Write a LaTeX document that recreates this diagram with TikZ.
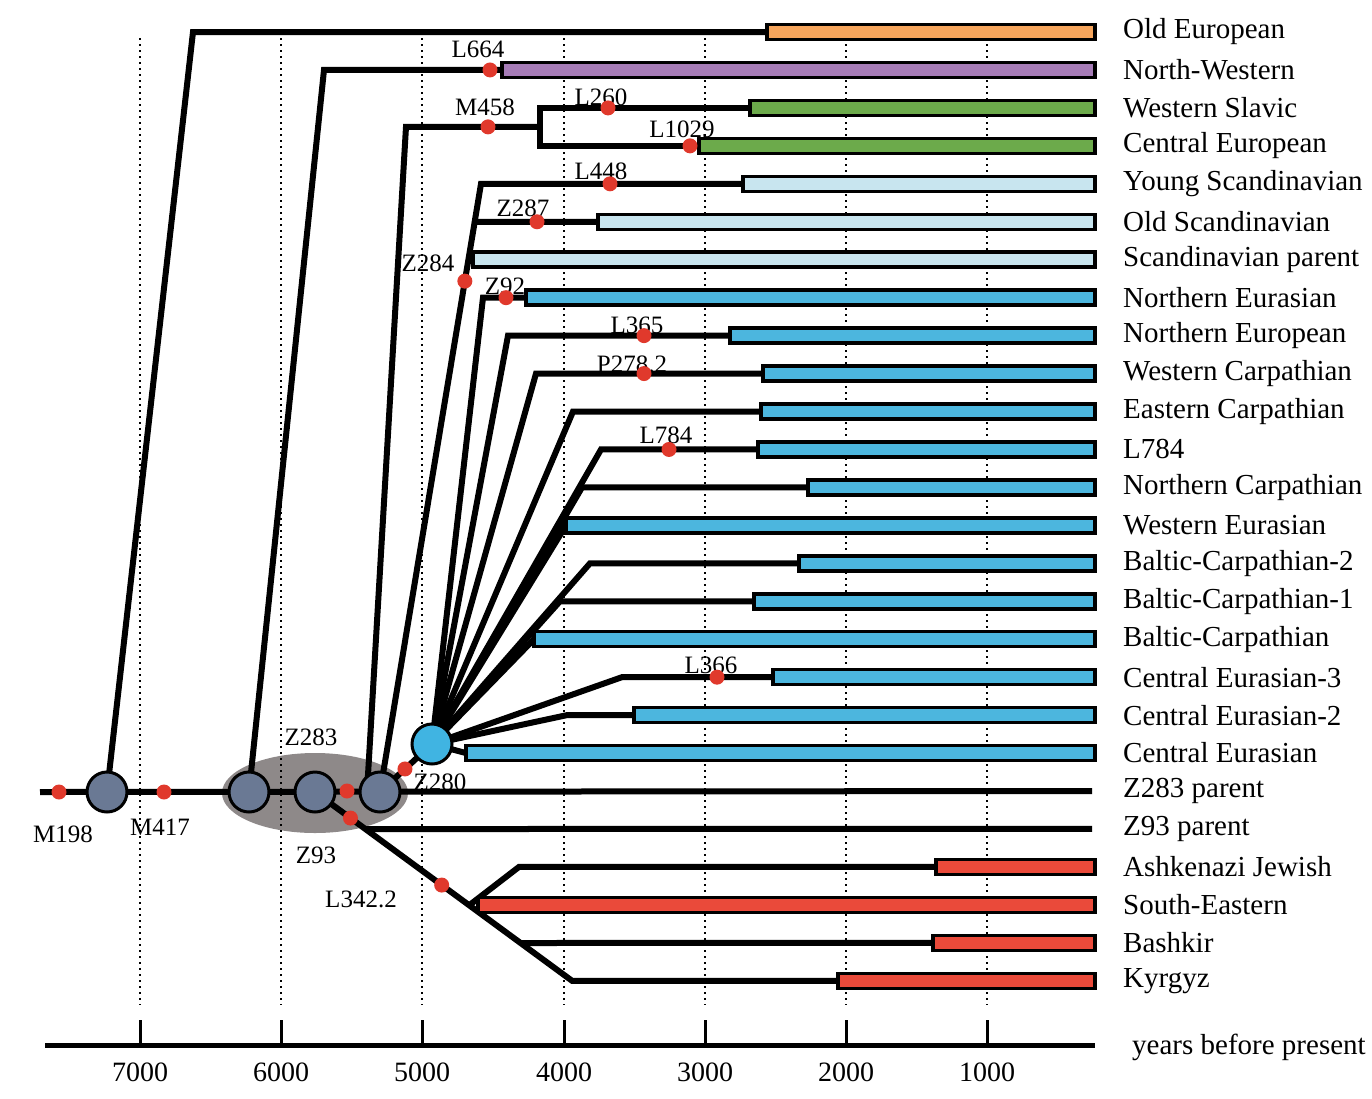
\documentclass[tikz,border=0pt]{standalone}
\usepackage{fontspec}
\setmainfont{Liberation Serif}
\usetikzlibrary{calc}

\definecolor{oldeu}{HTML}{F6A55C}
\definecolor{nweu}{HTML}{A67CB7}
\definecolor{slav}{HTML}{6CAA4B}
\definecolor{scand}{HTML}{C8E5EF}
\definecolor{eurasia}{HTML}{4CB6DE}
\definecolor{seast}{HTML}{EA4A3A}
\definecolor{snpred}{HTML}{E0392C}
\definecolor{hubgray}{HTML}{6A7994}
\definecolor{zblue}{HTML}{40B4E2}
\definecolor{cladegray}{HTML}{8E8989}

\tikzset{
  branch/.style={line width=6pt, line join=miter},
  bar/.style={draw=black, line width=3.5pt},
  hub/.style={circle, draw=black, line width=3pt, fill=hubgray, minimum size=40pt, inner sep=0pt},
  snp/.style={circle, fill=snpred, inner sep=0pt, minimum size=15pt},
  mut/.style={font=\fontsize{25}{25}\selectfont, inner sep=0pt},
  rowlbl/.style={font=\fontsize{29}{29}\selectfont, anchor=west, inner sep=0pt},
  axlbl/.style={font=\fontsize{28}{28}\selectfont, inner sep=0pt},
  yeargrid/.style={dash pattern=on 1.5pt off 4.5pt, line width=1.5pt},
  yeartick/.style={line width=3pt},
  timeaxis/.style={line width=5pt}
}

\begin{document}
\begin{tikzpicture}[x=1pt, y=-1pt]
\useasboundingbox (0,0) rectangle (1372,1098);

% shaded clade
\fill[cladegray] (315,793) ellipse [x radius=93, y radius=40];

% time scale
\foreach \gx/\yr in {140/7000,281/6000,422/5000,564/4000,705/3000,846/2000,987/1000}{
  \draw[yeargrid] (\gx,38) -- (\gx,1005);
  \draw[yeartick] (\gx,1020) -- (\gx,1045);
  \node[axlbl] (y\yr) at (\gx,1072) {\yr};
}
\draw[timeaxis] (45,1045) -- (1095,1045);
\node[rowlbl] (ybp) at (1132,1047) {years before present};

% row starts
\foreach \i/\xs in {0/767,1/502,2/750,3/699,4/743,5/598,6/473,7/526,8/730,9/763,
  10/761,11/758,12/808,13/566,14/799,15/754,16/534,17/773,18/634,19/466,
  20/1092,21/1092,22/936,23/478,24/933,25/838}{
  \pgfmathsetmacro\yy{32+37.95*\i}
  \coordinate (b\i) at (\xs,\yy);
}
\coordinate (rx) at (1095,0);

% corners
\foreach \n/\cx/\r in {k0/193/0,k1/324/1,k2/406/2.5,k2j/540/2.5,k2u/540/2,k2d/540/3,
  k4/481/4,k7/483/7,k8/508/8,k9/536/9,k10/573/10,k11/601/11,k12/582/12,
  k14/590/14,k15/560/15,k17/622/17,k18/567/18,k22/519/22,kd/572/25}{
  \coordinate (\n) at (\cx,{32+37.95*\r});
}

\coordinate (root) at (40,792);
\coordinate (h1) at (107,792);
\coordinate (h2) at (249,792);
\coordinate (h3) at (315,792);
\coordinate (h4) at (380,792);
\coordinate (z) at (432,744);

% branches
\draw[branch] (root) -- (b20);
\draw[branch] (h1) -- (k0) -- (b0);
\draw[branch] (h2) -- (k1) -- (b1);
\draw[branch] ([xshift=-13pt]h4) -- (k2) -- (k2j);
\draw[branch] (b2) -- (k2u) -- (k2d) -- (b3);
\draw[branch] (h4) -- (k4) -- (b4);
\draw[branch] ($(h4)!0.9376!(k4)$) -- (b5);
\draw[branch] ($(h4)!0.875!(k4)$) -- (b6);
\draw[branch] (h4) -- (z);
\foreach \r in {7,8,9,10,11,12,14,15,17,18}
  \draw[branch] (z) -- (k\r) -- (b\r);
\foreach \r in {13,16,19}
  \draw[branch] (z) -- (b\r);
\draw[branch] (h3) -- (kd) -- (b25);
\draw[branch] ($(h3)!0.196!(kd)$) -- (b21);
\draw[branch] ($(h3)!0.6!(kd)$) -- (k22) -- (b22);
\draw[branch] ($(h3)!0.8!(kd)$) -- (b24);

% haplogroup bars and names
\foreach \i/\col/\txt in {0/oldeu/Old European,1/nweu/North-Western,
  2/slav/Western Slavic,3/slav/Central European,4/scand/Young Scandinavian,
  5/scand/Old Scandinavian,6/scand/Scandinavian parent,7/eurasia/Northern Eurasian,
  8/eurasia/Northern European,9/eurasia/Western Carpathian,
  10/eurasia/Eastern Carpathian,11/eurasia/L784,12/eurasia/Northern Carpathian,
  13/eurasia/Western Eurasian,14/eurasia/Baltic-Carpathian-2,
  15/eurasia/Baltic-Carpathian-1,16/eurasia/Baltic-Carpathian,
  17/eurasia/Central Eurasian-3,18/eurasia/Central Eurasian-2,
  19/eurasia/Central Eurasian,20/none/Z283 parent,21/none/Z93 parent,
  22/seast/Ashkenazi Jewish,23/seast/South-Eastern,24/seast/Bashkir,25/seast/Kyrgyz}{
  \pgfmathsetmacro\yy{32+37.95*\i}
  \ifnum\i=20 \else\ifnum\i=21 \else
    \draw[bar, fill=\col] ($(b\i)+(0,-7.5)$) rectangle ($(b\i -| rx)+(0,7.5)$);
  \fi\fi
  \node[rowlbl] (t\i) at (1123,\yy) {\txt};
}

% nodes
\foreach \h in {h1,h2,h3,h4}
  \node[hub] (H\h) at (\h) {};
\node[hub, fill=zblue] (Z280) at (z) {};

% mutation names
\node[mut] (tM198) at (63,834) {M198};
\node[mut] (tM417) at (160,827) {M417};
\node[mut] (tZ283) at (311,737) {Z283};
\node[mut] (tZ93) at (316,855) {Z93};
\node[mut] (tZ280) at (440,782) {Z280};
\node[mut] (tL342) at (361,899) {L342.2};
\node[mut] (tL664) at (478,49) {L664};
\node[mut] (tM458) at (485,107) {M458};
\node[mut] (tL260) at (601,97) {L260};
\node[mut] (tL1029) at (682,129) {L1029};
\node[mut] (tL448) at (601,171) {L448};
\node[mut] (tZ287) at (523,208) {Z287};
\node[mut] (tZ284) at (428,263) {Z284};
\node[mut] (tZ92) at (505,286) {Z92};
\node[mut] (tL365) at (637,325) {L365};
\node[mut] (tP278) at (632,364) {P278.2};
\node[mut] (tL784) at (666,435) {L784};
\node[mut] (tL366) at (711,665) {L366};

% mutation dots
\foreach \n/\dx/\r in {L664/490/1,M458/488/2.5,L260/608/2,L1029/690/3,L448/610/4,
  Z287/537/5,Z92/506/7,L365/644/8,P278/644/9,L784/669/11,L366/717/17}{
  \node[snp] (s\n) at (\dx,{32+37.95*\r}) {};
}
\node[snp] (sM198) at (59,792) {};
\node[snp] (sM417) at (164,792) {};
\node[snp] (sZ283) at (347,791) {};
\node[snp] (sZ93) at ($(h3)!0.138!(kd)$) {};
\node[snp] (sL342) at ($(h3)!0.493!(kd)$) {};
\node[snp] (sZ280) at ($(h4)!0.48!(z)$) {};
\node[snp] (sZ284) at ($(h4)!0.84!(k4)$) {};

\end{tikzpicture}
\end{document}
